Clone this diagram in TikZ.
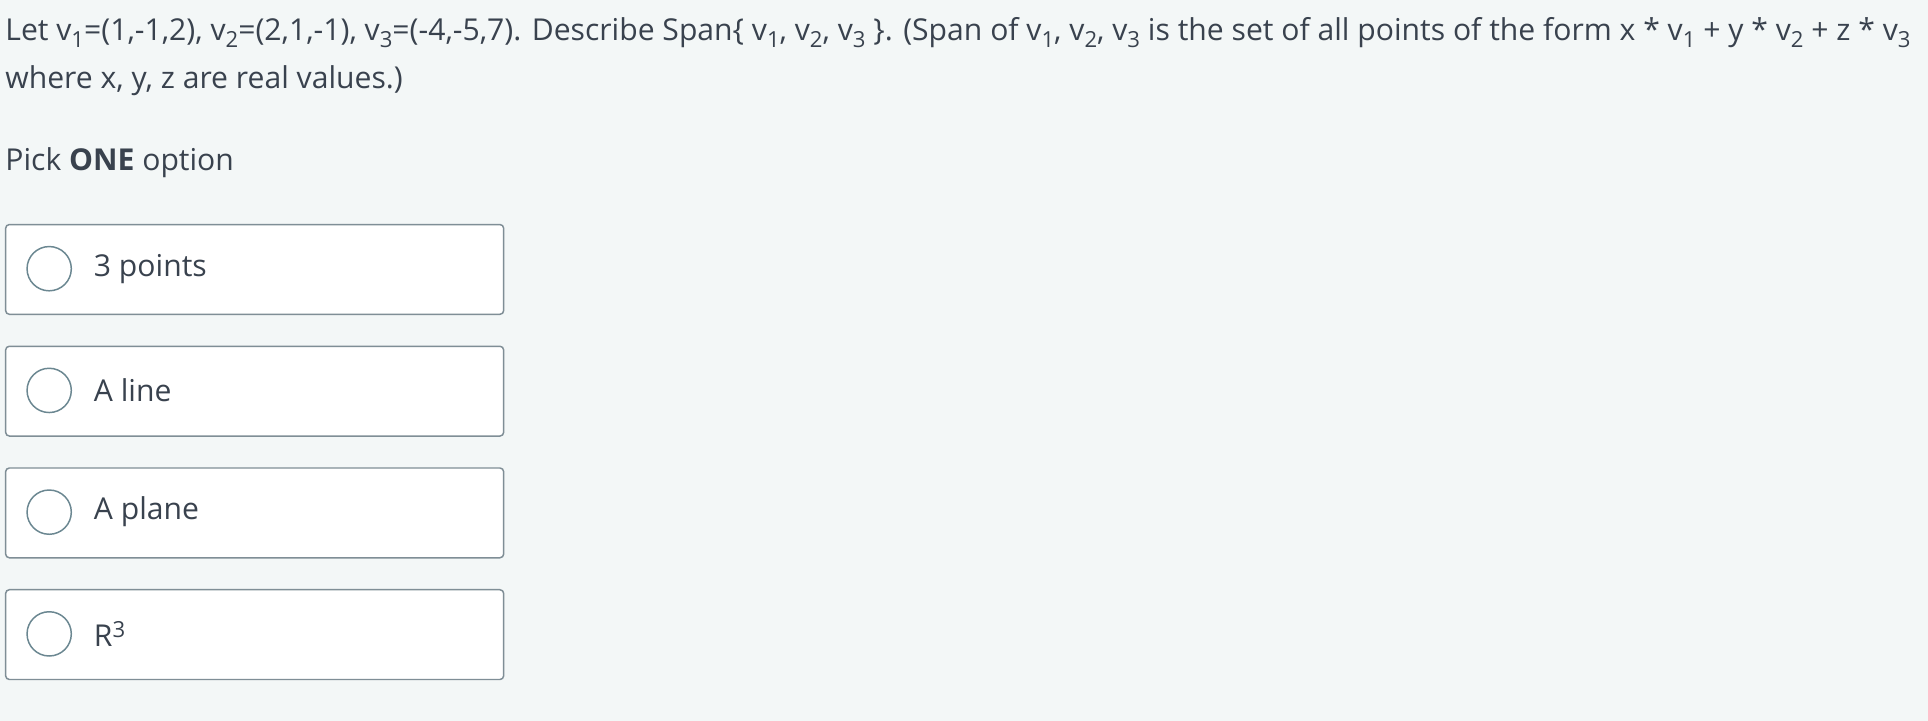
\documentclass[tikz,border=0pt]{standalone}
\usepackage{fontspec}
\setmainfont{Open Sans}
\definecolor{bg}{HTML}{F3F7F7}
\definecolor{tx}{HTML}{39424E}
\definecolor{bd}{HTML}{7F8E96}
\definecolor{cc}{HTML}{6B8791}
\newcommand{\vsb}[1]{\raisebox{-0.4ex}{\fontsize{9pt}{10pt}\selectfont #1}}
\begin{document}
\begin{tikzpicture}[x=0.5pt,y=-0.5pt,
  txt/.style={anchor=base west,inner sep=0,text=tx,font=\fontsize{12.25pt}{14pt}\selectfont},
  optbox/.style={draw=bd,line width=0.6pt,rounded corners=1.5pt,fill=white,minimum width=202.5pt,minimum height=36.5pt,anchor=north west,inner sep=0},
  radio/.style={circle,draw=cc,line width=0.6pt,minimum size=18pt,inner sep=0}]
\fill[bg] (0,0) rectangle (1568,586);
\useasboundingbox (0,0) rectangle (1568,586);
\node[txt] (q1) at (4,33) {Let v\vsb{1}=(1,-1,2), v\vsb{2}=(2,1,-1), v\vsb{3}=(-4,-5,7). Describe Span\{ v\vsb{1}, v\vsb{2}, v\vsb{3} \}. (Span of v\vsb{1}, v\vsb{2}, v\vsb{3} is the set of all points of the form x * v\vsb{1} + y * v\vsb{2} + z * v\vsb{3}};
\node[txt] (q2) at (4,72) {where x, y, z are real values.)};
\node[txt] (pk) at (4,139) {Pick \textbf{ONE} option};
\foreach \i/\y/\t in {a/182/3 points,b/281/A line,c/380/A plane,d/479/R\raisebox{0.6ex}{\fontsize{9pt}{10pt}\selectfont 3}}{
  \node[optbox] (box\i) at (4,\y) {};
  \node[radio] (r\i) at (40,\y+36.5) {};
  \node[txt,anchor=west] (l\i) at (76,\y+36.5) {\t};
}
\end{tikzpicture}
\end{document}
